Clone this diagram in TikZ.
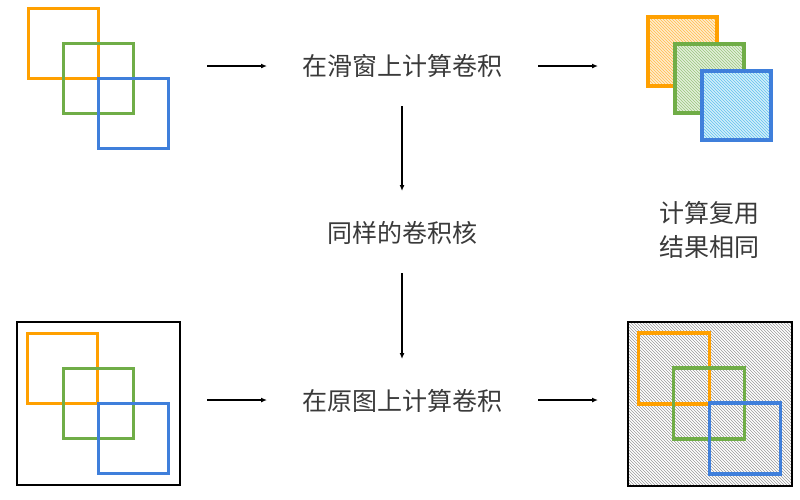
\documentclass[tikz,border=0pt]{standalone}
\usepackage{fontspec}
\newfontfamily\cjk{Noto Sans CJK SC}
\usetikzlibrary{patterns,arrows.meta}
\definecolor{cOrange}{HTML}{FFA000}
\definecolor{cGreen}{HTML}{70AD47}
\definecolor{cBlue}{HTML}{3F7FDB}
\definecolor{cCyan}{HTML}{1CA8E8}
\definecolor{cText}{HTML}{3A3A3A}
\tikzset{
  sq/.style={draw=#1, line width=3pt, minimum size=70pt, inner sep=0pt, rectangle},
  sqb/.style={draw=#1, line width=3.5pt, minimum size=71pt, inner sep=0pt, rectangle},
  frame/.style={draw=black, line width=2pt, minimum size=163pt, inner sep=0pt, rectangle},
  lbl/.style={font=\cjk\fontsize{25}{34}\selectfont, text=cText, inner sep=0pt, align=center},
  arr/.style={-{Latex[length=6pt,width=5pt]}, line width=1.2pt, black},
  hsq/.style 2 args={draw=#1, line width=4pt, minimum size=69pt, inner sep=0pt, rectangle,
     preaction={fill=white}, preaction={fill=#2!20}, preaction={pattern=north west lines, pattern color=#2!70}},
}
\begin{document}
\begin{tikzpicture}[x=1pt,y=-1pt]
\useasboundingbox (0,0) rectangle (800,499);
% top-left windows
\node[sq=cOrange] (tlo) at (63,43) {};
\node[sq=cGreen] (tlg) at (98,78) {};
\node[sq=cBlue] (tlb) at (133.5,113) {};
% top-right results
\node[hsq={cOrange}{cOrange}] (tro) at (682.5,51) {};
\node[hsq={cGreen}{cGreen}] (trg) at (709.5,78.5) {};
\node[hsq={cBlue}{cCyan}] (trb) at (736.5,105.5) {};
% bottom-left
\node[frame] (blf) at (98.5,403.5) {};
\node[sq=cOrange] (blo) at (62.5,368.5) {};
\node[sq=cGreen] (blg) at (98,403.5) {};
\node[sq=cBlue] (blb) at (133.5,438.5) {};
% bottom-right
\node[frame, minimum size=164pt, pattern=north west lines, pattern color=gray!80] (brf) at (710,403.5) {};
\node[sqb=cOrange] (bro) at (674,368.5) {};
\node[sqb=cGreen] (brg) at (709,403.5) {};
\node[sqb=cBlue] (brb) at (745,438.5) {};
% labels
\node[lbl] (t1) at (402,66) {在滑窗上计算卷积};
\node[lbl] (t2) at (402,233) {同样的卷积核};
\node[lbl] (t3) at (709,230) {计算复用\\结果相同};
\node[lbl] (t4) at (402,401) {在原图上计算卷积};
% arrow endpoints
\coordinate (a1s) at (207,66); \coordinate (a1e) at (267,66);
\coordinate (a2s) at (538,66); \coordinate (a2e) at (598,66);
\coordinate (a3s) at (207,400); \coordinate (a3e) at (267,400);
\coordinate (a4s) at (538,400); \coordinate (a4e) at (598,400);
\coordinate (v1s) at (402,106); \coordinate (v1e) at (402,191);
\coordinate (v2s) at (402,273); \coordinate (v2e) at (402,359);
\draw[arr] (a1s) -- (a1e);
\draw[arr] (a2s) -- (a2e);
\draw[arr] (a3s) -- (a3e);
\draw[arr] (a4s) -- (a4e);
\draw[arr] (v1s) -- (v1e);
\draw[arr] (v2s) -- (v2e);
\end{tikzpicture}
\end{document}
